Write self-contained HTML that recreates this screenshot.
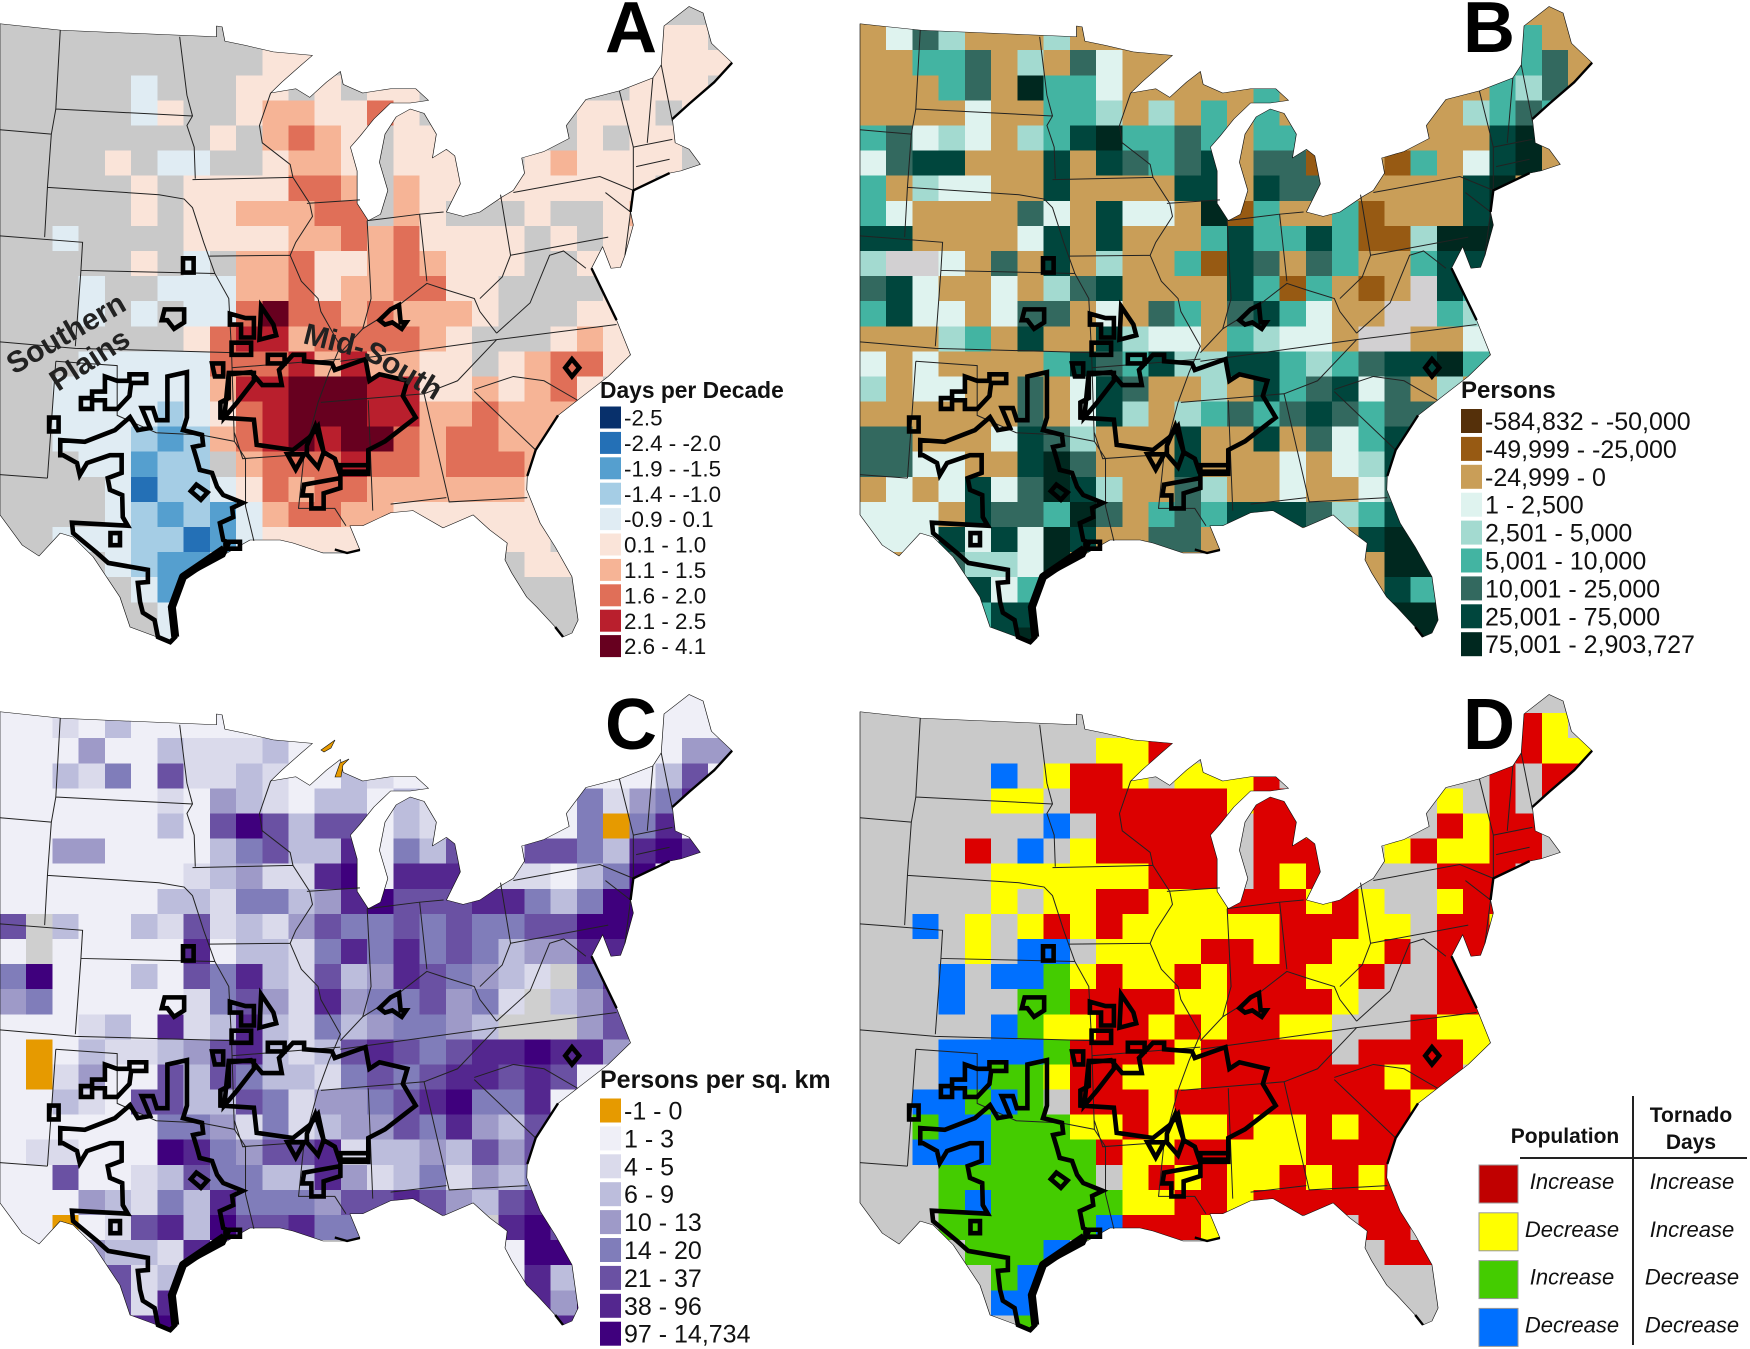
<!DOCTYPE html>
<html lang="en">
<head>
<meta charset="utf-8">
<title>Tornado days and population change maps</title>
<style>
html,body{margin:0;padding:0;background:#fff;width:1750px;height:1349px;overflow:hidden}
svg{display:block;font-family:"Liberation Sans",Arial,sans-serif}
#land{fill:none;stroke:#111;stroke-width:1.2;vector-effect:non-scaling-stroke;stroke-linejoin:round}
#rough-coast{fill:none;stroke:#000;stroke-width:2.4;vector-effect:non-scaling-stroke;stroke-linejoin:round}
#borders{fill:none;stroke:#222;stroke-width:1;vector-effect:non-scaling-stroke}
#hotspots{fill:none;stroke:#000;stroke-width:4.6;vector-effect:non-scaling-stroke;stroke-linejoin:miter}
#hotspot-coast{fill:none;stroke:#000;stroke-width:8;vector-effect:non-scaling-stroke;stroke-linejoin:round}
.panel-letter{font-weight:700;font-size:72px;fill:#000}
.legend-title{font-weight:700;fill:#111}
.legend-label{fill:#111}
.region{font-weight:700;font-size:30px;fill:#222}
.tbl-h{font-weight:700;font-size:21px;fill:#111;text-anchor:middle}
.tbl-c{font-style:italic;font-size:22px;fill:#111;text-anchor:middle}
</style>
</head>
<body>
<svg id="figure" xmlns="http://www.w3.org/2000/svg" width="1750" height="1349" viewBox="0 0 1750 1349">
<defs>
<path id="land-shape" d="M0 55 L110 70 L388 85 L388 60 L398 62 L403 95 L440 105 L490 120 L560 128 L540 150 L505 190 L485 215 L530 205 L555 225 L585 190 L610 165 L615 195 L650 215 L700 205 L745 205 L768 232 L735 238 L700 238 L670 275 L645 315 L628 340 L640 395 L640 470 L660 510 L682 495 L695 440 L680 375 L690 310 L710 270 L735 252 L760 262 L782 310 L775 365 L800 345 L815 360 L825 425 L800 490 L830 500 L860 490 L900 455 L920 440 L940 400 L935 365 L975 350 L1020 320 L1015 290 L1050 230 L1110 210 L1170 180 L1185 150 L1190 60 L1235 15 L1260 30 L1275 100 L1312 145 L1280 190 L1235 240 L1205 275 L1210 330 L1235 345 L1255 380 L1220 395 L1200 400 L1135 440 L1130 490 L1135 520 L1120 590 L1112 618 L1095 620 L1080 570 L1060 620 L1090 700 L1105 740 L1130 820 L1090 870 L1040 920 L1000 960 L960 1040 L945 1100 L944 1132 L968 1209 L995 1264 L1025 1333 L1036 1433 L1025 1463 L1009 1472 L995 1449 L962 1403 L944 1380 L917 1324 L905 1294 L909 1255 L878 1225 L848 1190 L819 1206 L794 1220 L740 1180 L700 1185 L650 1215 L627 1215 L645 1271 L622 1278 L579 1278 L525 1255 L502 1248 L448 1248 L400 1283 L328 1333 L305 1403 L314 1472 L305 1484 L281 1472 L233 1449 L215 1380 L167 1287 L131 1241 L108 1232 L70 1285 L40 1260 L0 1190 Z"/>
<clipPath id="land-clip"><use href="#land-shape"/></clipPath>
<g id="land"><use href="#land-shape"/></g>
<path id="rough-coast" d="M1312 145 L1280 190 L1235 240 L1205 275 M1060 620 L1090 700 L1105 740 M1130 490 L1135 440 L1200 400 M1000 960 L960 1040 L945 1100 M645 1271 L622 1278 L600 1270 M1009 1472 L995 1449"/>
<path id="borders" d="M322 85 L335 220 L345 268 L335 290 L348 340 L350 413 M100 252 L345 268 M108 70 L100 252 L92 310 L85 433 L80 548 M0 300 L92 310 M85 433 L285 450 L330 460 L345 480 L365 560 L385 632 L410 690 L415 815 L420 1020 M0 545 L148 560 L145 625 L135 800 M145 625 L385 632 M0 790 L135 805 L415 815 M100 835 L85 1105 M0 1097 L85 1105 M100 835 L210 845 L210 960 L280 1000 L360 1005 L420 1020 L440 1060 L440 1170 L455 1250 M345 415 L525 410 M485 215 L465 290 L470 330 L520 380 L525 410 L555 470 L560 500 L530 560 L520 590 L540 650 L570 690 L575 720 L610 800 L590 860 L570 930 L545 1050 L535 1175 L600 1175 L620 1215 M375 592 L520 590 M550 470 L645 462 M658 510 L665 690 L650 760 L610 815 M752 495 L765 650 M658 510 L752 495 L795 490 M650 760 L700 720 L765 655 L800 670 L850 690 L860 720 L890 770 M897 450 L915 590 L900 640 L860 690 M920 445 L1075 408 L1135 440 M915 590 L1090 548 M890 770 L950 700 L985 590 L1010 580 L1050 620 M610 835 L890 785 L1105 750 M415 850 L610 830 M575 930 L760 910 M890 785 L820 880 L760 910 L805 1160 L945 1150 M850 900 L920 870 L975 880 L1035 925 M850 905 L960 1040 M660 925 L668 1180 M420 1000 L435 1060 L545 1050 M700 1165 L800 1150 M1110 210 L1135 340 L1135 440 M1170 180 L1160 330 M1185 150 L1205 280 M1135 340 L1205 322 M1140 385 L1200 368 M1085 445 L1130 490 L1120 590"/>
<path id="hotspots" d="M129 1208 L229 1215 L220 1195 L219 1144 L197 1132 L193 1105 L218 1093 V1052 H197 L156 1070 L143 1098 L138 1070 L113 1052 H108 V1017 L152 1021 L206 994 L233 964 L247 994 L269 989 L254 943 H274 L281 971 H300 V870 L335 860 L335 965 L332 978 L328 994 L362 1005 L364 1028 L346 1033 L353 1063 L358 1086 L380 1093 L389 1125 L400 1144 L435 1162 L416 1174 L418 1195 L394 1209 L400 1248 L410 1255 L400 1283 L328 1333 L305 1403 L314 1472 L305 1484 L283 1472 L277 1433 L256 1416 L251 1391 L247 1347 L265 1345 V1317 L194 1301 L174 1278 L131 1232 Z M145 920 H165 V905 H188 V870 L210 880 H232 V865 H262 V885 H235 L232 915 L210 945 H188 V925 H165 V945 H145 Z M395 965 V930 L410 920 V865 L450 860 L470 890 H505 L500 855 L525 820 H545 V835 L595 840 L600 855 L655 830 L662 880 L680 865 L730 880 L722 915 L745 965 L725 985 L690 1020 L660 1040 V1090 H608 L600 1060 L580 1045 L570 985 L555 1010 L525 1040 L460 1028 L455 970 Z M545 1120 L610 1105 V1128 L580 1140 V1175 H558 V1145 H542 Z M610 1075 H660 V1095 H610 Z M515 1050 H545 L530 1085 Z M550 1030 L565 985 L580 1045 L570 1080 L550 1050 Z M380 840 H400 V870 H385 Z M410 862 H455 V880 L425 930 L402 965 Z M480 820 H510 V840 H480 Z M415 792 H450 V820 H415 Z M412 725 L440 735 H455 V780 H432 V750 H412 Z M468 708 L490 750 L495 775 L465 785 Z M295 715 H330 V745 L312 760 L300 740 H290 Z M328 597 H347 V630 H328 Z M88 965 H105 V997 H88 Z M352 1120 L372 1138 L360 1155 L342 1135 Z M198 1232 H215 V1260 H198 Z M1025 830 L1038 850 L1025 870 L1013 850 Z M680 740 L700 715 L715 705 L718 745 L728 745 L720 760 L703 745 L690 750 Z M404 1252 H430 V1268 H404 Z"/>
<path id="hotspot-coast" d="M402 1268 L328 1333 L308 1403 L314 1472"/>
</defs>
<g id="panels"></g>
<polygon points="321,750 335,740 331,748 324,752" fill="#e69a00" stroke="#111" stroke-width=".6"/>
<polygon points="335,777 340,763 349,759 343,765 341,777" fill="#e69a00" stroke="#111" stroke-width=".6"/>

<text class="panel-letter" x="605" y="52">A</text>
<text class="panel-letter" x="1463" y="52">B</text>
<text class="panel-letter" x="605" y="749">C</text>
<text class="panel-letter" x="1463" y="749">D</text>

<text class="region" transform="translate(14,375) rotate(-30)">Southern</text>
<text class="region" transform="translate(58,392) rotate(-33)">Plains</text>
<text class="region" transform="translate(302,343) rotate(14)">Mid-</text>
<text class="region" transform="translate(362,357) rotate(31)">South</text>

<text class="legend-title" font-size="22.8" x="600" y="398">Days per Decade</text>
<text class="legend-title" font-size="24" x="1461" y="398">Persons</text>
<text class="legend-title" font-size="25" x="600" y="1088">Persons per sq. km</text>
<g id="legends"></g>

<g>
<line x1="1633" y1="1096" x2="1633" y2="1345" stroke="#222" stroke-width="2"/>
<line x1="1520" y1="1158" x2="1747" y2="1158" stroke="#222" stroke-width="2"/>
<text class="tbl-h" x="1565" y="1143">Population</text>
<text class="tbl-h" x="1691" y="1122">Tornado</text>
<text class="tbl-h" x="1691" y="1149">Days</text>
<g id="table-rows"></g>
</g>
</svg>
<script>
// Panel A: days per decade class per grid cell
const panelARows = [
"gggggggggggggggggggggggggggg",
"ggggggggggggggggggggggggg11g",
"gggggggggg11ggggggggggggg111",
"gggggeggg11g1g11gggggggg111g",
"ggggge1gg1221131gggggg111g1g",
"gggggggg1g2321g11ggggg1g11gg",
"gggg1geegg1221g111gg121111gg",
"ggggg1g1111332g211g111111ggg",
"ggggg1g1122233g21ggg1gg12ggg",
"ggegggg1111223231111g1g11ggg",
"ggggg1geg22311232111gg11gggg",
"gggeggeee2231223311gggg1gggg",
"gggegegee3533232221ggg11gggg",
"ggggggg13442333321ggg121gggg",
"gggeeeee3334242211g12331gggg",
"ggeeeeee244555441121231ggggg",
"ggeeeede13455544223222gggggg",
"ggeeedcd2345455323322ggggggg",
"gggeecddg233343323332ggggggg",
"ggggebdde132332222221ggggggg",
"ggggedcdce23322111111ggggggg",
"ggeeeddbce11111111111ggggggg",
"ggggedccgggggggggggg11gggggg",
"gggggecggggggggggggggggggggg",
"ggggggeggggggggggggggggggggg",
"ggggggeggggggggggggggggggggg"
];
// Panel B: population change class per grid cell
const panelBRows = [
"tttttttttttttttttttttttttttt",
"t142ttt2ttttttttttttttttt3tt",
"tt334t2t41ttttttttttttttt34t",
"ttt34t6331ttttt3tttttttt324t",
"tttt1tt332t2t3t3ttttttt2343t",
"34121t23563343t333tttttt56tt",
"1455ttt5t54345t44nttn3t156tt",
"3t211tt5tttt55t544ttttt56ttt",
"31tttt41t511t6n3tt3nttt56ttt",
"55tttt15t5ttt353353nn2666ttt",
"2xx1t4t5t2tt3n54t43tt3555ttt",
"451tt1t245tttt53n3tntx53tttt",
"3511t144t1t43t4531ttxx32tttt",
"ttt23t5tt5211t3211txxtt1tttt",
"1t1tttt35435225532345563tttt",
"2t11tt4t154tt2t534514t2ttttt",
"tttttt4t152t2343454344tttttt",
"44ttt1542ttt5tt5t4135ttttttt",
"4411tt564ttt5ttt1t125ttttttt",
"t1t1514652tt42tt1tt14ttttttt",
"111t544364t3435554235ttttttt",
"111515165tt44tttttt566tttttt",
"ttt42216tttttttttttt66tttttt",
"tttt513ttttttttttttt536ttttt",
"tttt355ttttttttttttt666ttttt",
"ttttt56tttttttttttttt6tttttt"
];
// Panel C: population density class per grid cell
const panelCRows = [
"1111111111111111111111111111",
"1121311111111111111111111111",
"1114113222311111111111111144",
"1132516223211321111111111361",
"1111112143213313211111524571",
"1111113168636613221111"+"5o5711",
"1144111135633715361166537871",
"1111111234227817771221358111",
"1111113325534786667753588111",
"6x31132623246556565566888111",
"1x11111713325757565344778111",
"581113165732634765432x571111",
"45111112564274556452x3461111",
"1112317237325345543xxx461111",
"1o13223467323676567787741111",
"1o24116365332565677676111111",
"1132166336524456785571111111",
"1111115542523446574361111111",
"1221118754667233436461111111",
"1161123655337423524351111111",
"1114325375554667643671111111",
"11o126738667551111x786111111",
"1114332711111111111188111111",
"1111623511111111111173711111",
"1111627111111111111174811111",
"1111178111111111111117811111"
];
// Panel D: population / tornado change combination per grid cell
const panelDRows = [
"xxxxxxxxxxxxxxxxxxxxxxxxxxxx",
"xxxxxxxxxxxxxxxxxxxxxxxxxryx",
"xxxxxxxxxyyrxxxxxxxxxxxxxryy",
"xxxxxbxyrryxyyyrxxxxxxxxrxrr",
"xxxxxyyxrrrrrryrrxxxxxyxrxrx",
"xxxxxxxbxrrrrrxrryxxxxryrrxx",
"xxxxrxbxyrrrrrxrrrxxyryyrrxx",
"xxxxxyyyyyyrrrxryrxxxxrrrxxx",
"xxxxxyxyyrryyyrrryryxxyrrxxx",
"xxbxyxyryryyyyyyrrryyxrryxxx",
"xxxxyxbbxyyyyrryrryyrxrrxxxx",
"xxxbxbbgyryyryrrryyrxxrrxxxx",
"xxxbxxggrrrryyrrrryxxxrrxxxx",
"xxxxxbgyyrryryrryyxxxryyxxxx",
"xxxbbbbgrrrryrrrrrxrrrryxxxx",
"xxxbbggyrryyyrrrrrrryrrxxxxx",
"xxbbgbgxrrryrrrrrrrrryxxxxxx",
"xxgbbgggyyryyyryyryrrxxxxxxx",
"xxbbbggggryyrryyyrrrrxxxxxxx",
"xxxggggggxyryryyryryrxxxxxxx",
"xxxgbgggggyyrryrrrrrrxxxxxxx",
"xxxggggggbrrryxxxxxrrxxxxxxx",
"xxxxgggbxxxxxxxxxxxxrrxxxxxx",
"xxxxxgbxxxxxxxxxxxxxxxxxxxxx",
"xxxxxbbxxxxxxxxxxxxxxxxxxxxx",
"xxxxxxgxxxxxxxxxxxxxxxxxxxxx"
];
const paletteA = {g:"#c9c9c9",e:"#e0ecf3",d:"#a5cde5",c:"#559fcf",b:"#2470b6",1:"#fae4d9",2:"#f6b496",3:"#e06f58",4:"#b91f2d",5:"#67001f",a:"#08306b"};
const paletteB = {t:"#c99e58",x:"#d2d0d2",n:"#975a13",m:"#55300a",1:"#dff3ef",2:"#a3dad0",3:"#43b4a2",4:"#33695f",5:"#00463d",6:"#00281f"};
const paletteC = {1:"#efeff7",2:"#dadaeb",3:"#bcbddc",4:"#9e9ac8",5:"#807dba",6:"#6a51a3",7:"#54278f",8:"#3f007d",o:"#e69a00",x:"#cfcfcf"};
const paletteD = {x:"#c9c9c9",r:"#dc0000",y:"#ffff00",g:"#44cc00",b:"#0070ff"};

const legendALabels = ["-2.5","-2.4 - -2.0","-1.9 - -1.5","-1.4 - -1.0","-0.9 - 0.1","0.1 - 1.0","1.1 - 1.5","1.6 - 2.0","2.1 - 2.5","2.6 - 4.1"];
const legendAKeys = ["a","b","c","d","e","1","2","3","4","5"];
const legendBLabels = ["-584,832 - -50,000","-49,999 - -25,000","-24,999 - 0","1 - 2,500","2,501 - 5,000","5,001 - 10,000","10,001 - 25,000","25,001 - 75,000","75,001 - 2,903,727"];
const legendBKeys = ["m","n","t","1","2","3","4","5","6"];
const legendCLabels = ["-1 - 0","1 - 3","4 - 5","6 - 9","10 - 13","14 - 20","21 - 37","38 - 96","97 - 14,734"];
const legendCKeys = ["o","1","2","3","4","5","6","7","8"];
const tablePopulation = ["Increase","Decrease","Increase","Decrease"];
const tableTornado = ["Increase","Increase","Decrease","Decrease"];
const tableKeys = ["#c00000","#ffff00","#44cc00","#0070ff"];

const NS = "http://www.w3.org/2000/svg";
const COL_W = 47, ROW_H = 58, SX = 0.558, SY = 0.4327;
function colX(c){ return c * COL_W; }
function rowY(r){ return r * ROW_H; }
function legendRowA(i){ return 417.5 + i * 25.4; }
function legendRowB(i){ return 421 + i * 27.9; }
function legendRowC(i){ return 1110.5 + i * 27.9; }
function tableRow(i){ return 1165 + i * 47.8; }

function drawPanel(parent, name, ox, oy, rows, palette){
  const g = document.createElementNS(NS, "g");
  
  
  g.setAttribute("transform", "translate(" + ox + "," + oy + ") scale(" + SX + "," + SY + ")");
  const cells = document.createElementNS(NS, "g");
  cells.setAttribute("clip-path", "url(#land-clip)");
  
  
  rows.forEach(function(row, r){
    for (let c = 0; c < row.length; c++) {
      const el = document.createElementNS(NS, "rect");
      el.setAttribute("x", colX(c));
      el.setAttribute("y", rowY(r));
      el.setAttribute("width", COL_W + 1);
      el.setAttribute("height", ROW_H + 1);
      el.setAttribute("fill", palette[row[c]] || "#ccc");
      el.setAttribute("shape-rendering", "crispEdges");
      
      
      cells.appendChild(el);
    }
  });
  g.appendChild(cells);
  [["borders","state-borders"],["land","land-outline"],["rough-coast","rough-coast"],["hotspots","hotspot-outlines"],["hotspot-coast","hotspot-coast"]].forEach(function(p){
    const u = document.createElementNS(NS, "use");
    u.setAttribute("href", "#" + p[0]);
    
    
    g.appendChild(u);
  });
  parent.appendChild(g);
}

function drawLegend(parent, x, labels, keys, palette, rowFn, size, fontSize){
  labels.forEach(function(label, i){
    const cy = rowFn(i);
    const sw = document.createElementNS(NS, "rect");
    sw.setAttribute("x", x);
    sw.setAttribute("y", cy - size / 2);
    sw.setAttribute("width", 21);
    sw.setAttribute("height", size);
    sw.setAttribute("fill", palette[keys[i]]);
    
    
    parent.appendChild(sw);
    const t = document.createElementNS(NS, "text");
    t.setAttribute("class", "legend-label");
    t.setAttribute("x", x + 24);
    t.setAttribute("y", cy + fontSize * 0.36);
    t.setAttribute("font-size", fontSize);
    t.textContent = label;
    
    
    parent.appendChild(t);
  });
}

const panelsG = document.getElementById("panels");
drawPanel(panelsG, "a", 0, 0, panelARows, paletteA);
drawPanel(panelsG, "b", 860, 0, panelBRows, paletteB);
drawPanel(panelsG, "c", 0, 688, panelCRows, paletteC);
drawPanel(panelsG, "d", 860, 688, panelDRows, paletteD);

const legendsG = document.getElementById("legends");
drawLegend(legendsG, 600, legendALabels, legendAKeys, paletteA, legendRowA, 22, 22.4);
drawLegend(legendsG, 1461, legendBLabels, legendBKeys, paletteB, legendRowB, 24, 25);
drawLegend(legendsG, 600, legendCLabels, legendCKeys, paletteC, legendRowC, 24, 25);

const tableG = document.getElementById("table-rows");
tablePopulation.forEach(function(pop, i){
  const y = tableRow(i);
  const sw = document.createElementNS(NS, "rect");
  sw.setAttribute("x", 1479);
  sw.setAttribute("y", y);
  sw.setAttribute("width", 39);
  sw.setAttribute("height", 38);
  sw.setAttribute("fill", tableKeys[i]);
  sw.setAttribute("stroke", "#999");
  
  
  tableG.appendChild(sw);
  const a = document.createElementNS(NS, "text");
  a.setAttribute("class", "tbl-c");
  a.setAttribute("x", 1572);
  a.setAttribute("y", y + 24);
  a.textContent = pop;
  
  
  tableG.appendChild(a);
  const b = document.createElementNS(NS, "text");
  b.setAttribute("class", "tbl-c");
  b.setAttribute("x", 1692);
  b.setAttribute("y", y + 24);
  b.textContent = tableTornado[i];
  
  
  tableG.appendChild(b);
});
</script>
</body>
</html>
